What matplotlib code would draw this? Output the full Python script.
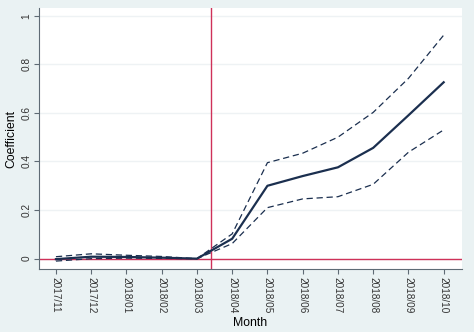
import matplotlib.pyplot as plt

months = ['2017/11', '2017/12', '2018/01', '2018/02', '2018/03', '2018/04',
          '2018/05', '2018/06', '2018/07', '2018/08', '2018/09', '2018/10']
coef = [-0.002, 0.008, 0.007, 0.004, 0.0, 0.082, 0.300, 0.340, 0.376, 0.456, 0.590, 0.726]
upper = [0.008, 0.020, 0.014, 0.009, 0.0, 0.102, 0.395, 0.434, 0.500, 0.602, 0.742, 0.920]
lower = [-0.010, 0.000, 0.002, 0.001, 0.0, 0.062, 0.210, 0.246, 0.255, 0.306, 0.438, 0.530]
event_pos = 4.4

LINE_COLOR = '#1b2f4f'
RED = '#cf3159'
BG = '#eaf2f3'
AXIS_GREY = '#5f6b75'

plt.rcParams['font.family'] = ['Liberation Sans', 'DejaVu Sans']

fig = plt.figure(figsize=(4.74, 3.32), dpi=100, facecolor=BG)
ax = fig.add_axes([0.0823, 0.189, 0.8924, 0.786])
ax.set_facecolor('white')

x = list(range(len(months)))

ax.axhline(0, color=RED, linewidth=1.0, zorder=1)
ax.axvline(event_pos, color=RED, linewidth=1.0, zorder=1)

ax.plot(x, upper, color=LINE_COLOR, linewidth=0.9, linestyle=(0, (5, 3)), zorder=3)
ax.plot(x, lower, color=LINE_COLOR, linewidth=0.9, linestyle=(0, (5, 3)), zorder=3)
ax.plot(x, coef, color=LINE_COLOR, linewidth=1.6, zorder=4)

ax.set_xlim(-0.48, 11.52)
ax.set_ylim(-0.0436, 1.0305)

ax.set_xticks(x)
ax.set_xticklabels(months, rotation=270, fontsize=7.2, color='#333333')
ax.set_yticks([0, 0.2, 0.4, 0.6, 0.8, 1.0])
ax.set_yticklabels(['0', '0.2', '0.4', '0.6', '0.8', '1'], rotation=90,
                   va='center', fontsize=7.3, color='#333333')

ax.grid(axis='y', color='#eef2f4', linewidth=1.0, zorder=0)
ax.set_axisbelow(True)

for side in ['top', 'right']:
    ax.spines[side].set_visible(False)
for side in ['left', 'bottom']:
    ax.spines[side].set_color(AXIS_GREY)
    ax.spines[side].set_linewidth(0.8)

ax.tick_params(axis='both', length=3.6, width=0.8, color=AXIS_GREY, pad=2)

ax.set_xlabel('Month', fontsize=8.8)
ax.set_ylabel('Coefficient', fontsize=8.8)
ax.xaxis.set_label_coords(0.5, -0.183)
ax.yaxis.set_label_coords(-0.052, 0.5)

fig.savefig('out.png', dpi=100, facecolor=BG)
